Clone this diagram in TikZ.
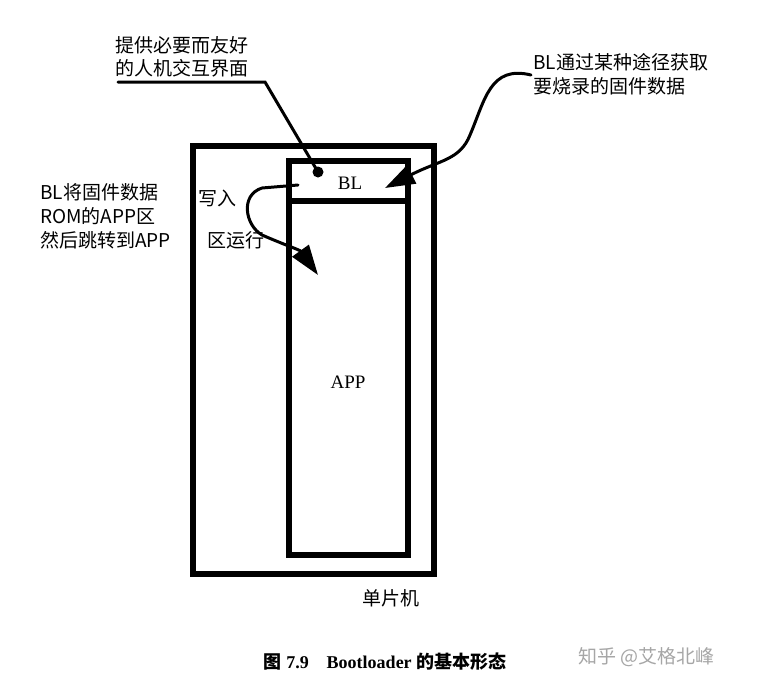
\documentclass[tikz,border=0pt]{standalone}
\usepackage{fontspec}
\setmainfont{Liberation Serif}
\newfontfamily\cjk{Noto Sans CJK SC}
\usetikzlibrary{arrows.meta}
\begin{document}
\begin{tikzpicture}[x=1pt,y=-1pt,
  lbl/.style={font=\fontsize{19}{22}\selectfont\cjk, anchor=west, inner sep=0pt},
  thick box/.style={draw, line width=6.5pt, inner sep=0pt, outer sep=0pt},
  wire/.style={line width=3pt, line cap=round},
  bigtip/.style={-{Triangle[length=30pt,width=20pt]}}]
\useasboundingbox (0,0) rectangle (759,686);
\fill[white] (0,0) rectangle (759,686);
\node[thick box, minimum width=241pt, minimum height=428pt, anchor=north west] (mcu) at (193,146) {};
\node[thick box, minimum width=119pt, minimum height=394pt, anchor=north west] (app) at (289,161) {};
\node[thick box, minimum width=119pt, minimum height=40pt, anchor=north west, line width=6pt] (bl) at (289,161) {};
\node[inner sep=0pt, font=\fontsize{19}{22}\selectfont] (bltxt) at (350,183) {BL};
\node[inner sep=0pt, font=\fontsize{19}{22}\selectfont] (apptxt) at (348,382) {APP};
\node[lbl] (t1a) at (115,45) {提供必要而友好};
\node[lbl] (t1b) at (115,68) {的人机交互界面};
\node[lbl] (t2a) at (533,62) {BL通过某种途径获取};
\node[lbl] (t2b) at (533,86) {要烧录的固件数据};
\node[lbl] (t3a) at (40,192) {BL将固件数据};
\node[lbl] (t3b) at (40,216) {ROM的APP区};
\node[lbl] (t3c) at (40,240) {然后跳转到APP};
\node[lbl] (w) at (198,198) {写入};
\node[lbl] (r) at (207,240) {区运行};
\node[lbl] (m) at (362,598) {单片机};
\node[font=\fontsize{18}{22}\selectfont\bfseries] (cap) at (385,662) {{\cjk 图} 7.9\quad Bootloader {\cjk 的基本形态}};
\node[lbl, text=gray!70] (wm) at (578,657) {知乎 @艾格北峰};
\coordinate (dot) at (318,172);
\fill (dot) circle (5.5pt);
\draw[wire] (118,82) -- (265,82) -- (dot);
\coordinate (s2) at (531,75);
\coordinate (e2) at (385,188);
\draw[wire, bigtip] (s2) .. controls (490,65) and (485,100) .. (470,135)
  .. controls (460,160) and (440,160) .. (e2);
\coordinate (s3) at (298,185);
\coordinate (e3) at (318,275);
\draw[wire, bigtip] (s3) -- (262,188) .. controls (240,195) and (245,225) .. (262,235)
  .. controls (285,245) and (300,250) .. (e3);
\end{tikzpicture}
\end{document}
